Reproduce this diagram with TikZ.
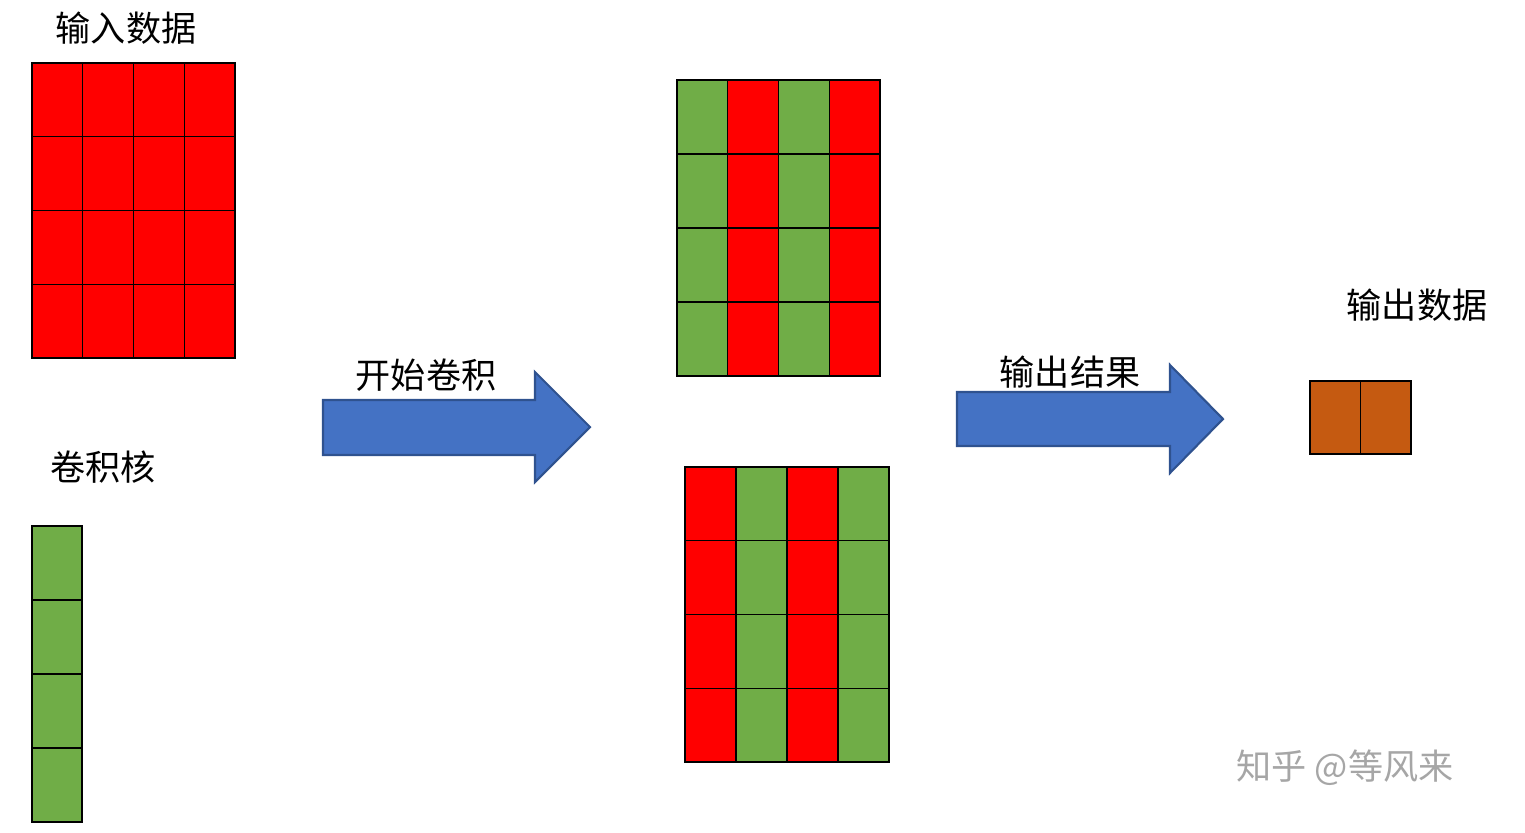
\documentclass[tikz,border=0pt]{standalone}
\usepackage{fontspec}
\newfontfamily\cjk{Noto Sans CJK SC}
\definecolor{cellred}{HTML}{FF0000}
\definecolor{cellgreen}{HTML}{70AD47}
\definecolor{cellbrown}{HTML}{C55A11}
\definecolor{arrowblue}{HTML}{4472C4}
\definecolor{arrowedge}{HTML}{2F528F}
\begin{document}
\begin{tikzpicture}[x=0.02cm, y=-0.02cm,
            every node/.style={font=\cjk\fontsize{20}{24}\selectfont},
            cell_style/.style={draw=black, line width=0.8pt}]
            \tikzset{big arrow/.style={fill=arrowblue, draw=arrowedge, line width=1.2pt}}
            \useasboundingbox (0,0) rectangle (1525,832);
            % input data
            \foreach \i in {0,...,3} \foreach \j in {0,...,3}
                \draw[cell_style, fill=cellred] (32+50.75*\i, 63+73.75*\j) rectangle ++(50.75,73.75);
            % kernel
            \foreach \j in {0,...,3}
                \draw[cell_style, fill=cellgreen] (32, 526+74*\j) rectangle ++(50,74);
            % upper result
            \foreach \i/\c in {0/cellgreen,1/cellred,2/cellgreen,3/cellred} \foreach \j in {0,...,3}
                \draw[cell_style, fill=\c] (677+50.75*\i, 80+74*\j) rectangle ++(50.75,74);
            % lower result
            \foreach \i/\c in {0/cellred,1/cellgreen,2/cellred,3/cellgreen} \foreach \j in {0,...,3}
                \draw[cell_style, fill=\c] (685+51*\i, 467+73.75*\j) rectangle ++(51,73.75);
            % output
            \foreach \i in {0,1}
                \draw[cell_style, fill=cellbrown] (1310+50.5*\i, 381) rectangle ++(50.5,73);
            % arrows
            \draw[big arrow] (323,400) -- (535,400) -- (535,372) -- (590,427) -- (535,482) -- (535,455) -- (323,455) -- cycle;
            \draw[big arrow] (957,392) -- (1170,392) -- (1170,365) -- (1223,419) -- (1170,473) -- (1170,446) -- (957,446) -- cycle;
            % labels
            \node (in_label) at (126,28) {输入数据};
            \node (k_label) at (103,467) {卷积核};
            \node (start_label) at (426,375) {开始卷积};
            \node (res_label) at (1070,372) {输出结果};
            \node (out_label) at (1417,305) {输出数据};
            \node[text=black!35] (mark) at (1345,768) {知乎 @等风来};
        \end{tikzpicture}
\end{document}
